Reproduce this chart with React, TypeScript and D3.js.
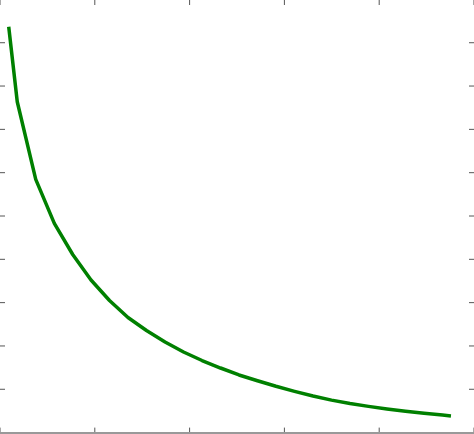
import React from "react";
import * as d3 from "d3";

const xValues = [
  0.092, 0.182, 0.377, 0.573, 0.767, 0.96, 1.155, 1.35, 1.545, 1.741, 1.936,
  2.131, 2.326, 2.521, 2.716, 2.911, 3.107, 3.302, 3.497, 3.692, 3.887, 4.082,
  4.277, 4.473, 4.668, 4.757,
];
const yValues = [
  9.37, 7.638, 5.847, 4.831, 4.111, 3.523, 3.049, 2.657, 2.357, 2.091, 1.861,
  1.664, 1.491, 1.33, 1.196, 1.069, 0.953, 0.845, 0.75, 0.672, 0.605, 0.545,
  0.494, 0.448, 0.404, 0.383,
];
const xTicks = [0, 1, 2, 3, 4, 5];
const yTicks = [0, 1, 2, 3, 4, 5, 6, 7, 8, 9, 10];

const W = 474;
const H = 434;

export default function App() {
  const x = d3.scaleLinear().domain([0, 5]).range([0, 474]);
  const y = d3.scaleLinear().domain([0, 10]).range([432.6, -0.6]);
  const pts: [number, number][] = xValues.map((v, i) => [v, yValues[i]]);
  const line = d3
    .line<[number, number]>()
    .x((d) => x(d[0]))
    .y((d) => y(d[1]));
  const tickLen = 5;
  const tickColor = "#555";
  return (
    <svg
      width={W}
      height={H}
      style={{ position: "absolute", left: 0, top: 0, background: "#fff" }}
    >
      <rect x={0} y={0} width={W} height={H} fill="#fff" />
      {xTicks.map((t) => (
        <g key={"x" + t}>
          <line x1={x(t)} x2={x(t)} y1={0} y2={tickLen} stroke={tickColor} strokeWidth={1} />
          <line x1={x(t)} x2={x(t)} y1={432.6} y2={432.6 - tickLen} stroke={tickColor} strokeWidth={1} />
        </g>
      ))}
      {yTicks.map((t) => (
        <g key={"y" + t}>
          <line x1={0} x2={tickLen} y1={y(t)} y2={y(t)} stroke={tickColor} strokeWidth={1} />
          <line x1={W} x2={W - tickLen} y1={y(t)} y2={y(t)} stroke={tickColor} strokeWidth={1} />
        </g>
      ))}
      <line x1={0} x2={W} y1={433} y2={433} stroke="#999" strokeWidth={2} />
      <path
        d={line(pts) || ""}
        fill="none"
        stroke="#008000"
        strokeWidth={3.5}
        strokeLinejoin="round"
      />
    </svg>
  );
}
